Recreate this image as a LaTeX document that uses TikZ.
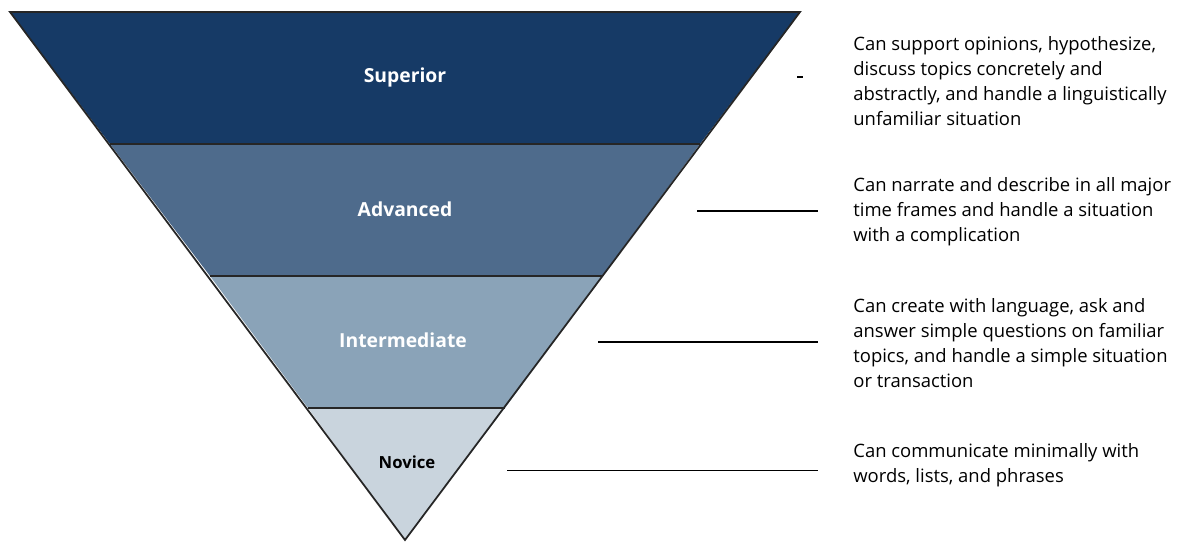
\documentclass[tikz,border=0pt]{standalone}
\usepackage{fontspec}
\setmainfont{Open Sans}
\usetikzlibrary{positioning}
\definecolor{supc}{HTML}{163A66}
\definecolor{advc}{HTML}{4E6B8C}
\definecolor{intc}{HTML}{8AA3B8}
\definecolor{novc}{HTML}{C9D4DD}
\tikzset{
  band/.style={draw=black!85, line width=1pt},
  level/.style={font=\bfseries\fontsize{11}{13}\selectfont, text=white},
  desc/.style={anchor=west, align=left, inner sep=0pt, font=\fontsize{10.5}{14.2}\selectfont},
  tick/.style={line width=0.9pt}
}
\begin{document}
\begin{tikzpicture}[x=0.02cm, y=-0.02cm]
\useasboundingbox (0,0) rectangle (1192,550);
% triangle bands
\fill[supc] (10,12) -- (800,12) -- (700,144) -- (110,144) -- cycle;
\fill[advc] (110,144) -- (700,144) -- (602,276) -- (210,276) -- cycle;
\fill[intc] (210,276) -- (602,276) -- (505,408) -- (308,408) -- cycle;
\fill[novc] (308,408) -- (505,408) -- (405,540) -- cycle;
\draw[band] (10,12) -- (800,12) -- (405,540) -- cycle;
\draw[band] (110,144) -- (700,144);
\draw[band] (210,276) -- (602,276);
\draw[band] (308,408) -- (505,408);
% level names
\node[level] (superior) at (405,77) {Superior};
\node[level] (advanced) at (405,209) {Advanced};
\node[level] (intermediate) at (403,340) {Intermediate};
\node[level, text=black, font=\bfseries\fontsize{9.5}{11}\selectfont] (novice) at (407,462) {Novice};
% descriptions
\node[desc] (dsup) at (853,81) {Can support opinions, hypothesize,\\discuss topics concretely and\\abstractly, and handle a linguistically\\unfamiliar situation};
\node[desc] (dadv) at (853,212) {Can narrate and describe in all major\\time frames and handle a situation\\with a complication};
\node[desc] (dint) at (853,343) {Can create with language, ask and\\answer simple questions on familiar\\topics, and handle a simple situation\\or transaction};
\node[desc] (dnov) at (853,465) {Can communicate minimally with\\words, lists, and phrases};
% connectors
\coordinate (ssup) at (797,77);
\coordinate (esup) at (803,77);
\coordinate (sadv) at (697,211);
\coordinate (eadv) at (818,211);
\coordinate (sint) at (598,342);
\coordinate (eint) at (818,342);
\coordinate (snov) at (507,470);
\coordinate (enov) at (818,470);
\draw[tick] (ssup) -- (esup);
\draw[tick] (sadv) -- (eadv);
\draw[tick] (sint) -- (eint);
\draw[line width=0.5pt] (snov) -- (enov);
\end{tikzpicture}
\end{document}
